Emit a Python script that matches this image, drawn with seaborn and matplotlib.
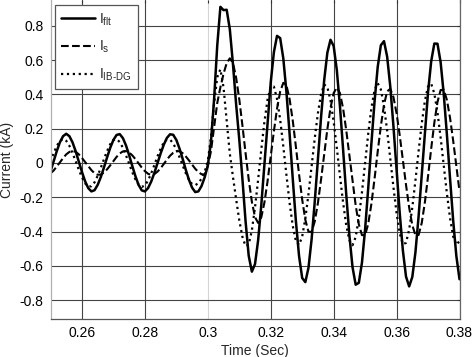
import numpy as np
import matplotlib
matplotlib.use('Agg')
import matplotlib.pyplot as plt
import seaborn as sns

# ── data (kA), sampled every 1 ms from 0.250 s to 0.380 s ─────────────
time = np.round(np.arange(0.250, 0.38001, 0.001), 3)

i_flt = [-.050, .010, .069, .121, .156, .170, .156, .120, .068, .008,
         -.053, -.107, -.147, -.166, -.159, -.128, -.082, -.026, .033, .089,
         .134, .163, .168, .145, .102, .045, -.018, -.078, -.128, -.160,
         -.166, -.147, -.109, -.059, -.002, .055, .106, .146, .167, .164,
         .134, .084, .024, -.040, -.098, -.144, -.170, -.166, -.135, -.084,
         -.016, .121, .372, .685, .910, .891, .893, .779, .575, .342,
         .137, -.093, -.340, -.541, -.634, -.590, -.450, -.246, -.005, .243,
         .470, .645, .741, .728, .609, .412, .168, -.092, -.340, -.542,
         -.671, -.695, -.611, -.444, -.224, .023, .268, .484, .643, .718,
         .682, .542, .331, .079, -.183, -.422, -.608, -.710, -.699, -.581,
         -.386, -.144, .114, .358, .559, .686, .710, .620, .445, .215,
         -.041, -.293, -.510, -.663, -.720, -.665, -.520, -.311, -.068, .182,
         .412, .592, .696, .695, .587, .400, .164, -.092, -.338, -.543,
         -.678]

i_s = [-.061, -.044, -.021, .004, .028, .050, .064, .070, .065, .050,
       .029, .005, -.020, -.042, -.060, -.069, -.068, -.056, -.037, -.014,
       .011, .035, .055, .067, .069, .061, .044, .022, -.002, -.027,
       -.048, -.063, -.070, -.065, -.051, -.031, -.006, .019, .042, .059,
       .069, .068, .057, .038, .015, -.010, -.034, -.053, -.066, -.068,
       -.017, .068, .207, .349, .441, .520, .582, .610, .583, .497,
       .371, .219, .057, -.096, -.226, -.316, -.350, -.317, -.230, -.106,
       .038, .184, .316, .416, .467, .452, .372, .247, .094, -.066,
       -.214, -.332, -.401, -.402, -.340, -.233, -.096, .052, .197, .321,
       .407, .440, .407, .318, .191, .043, -.109, -.248, -.358, -.421,
       -.421, -.354, -.238, -.092, .066, .215, .339, .417, .432, .384,
       .289, .161, .017, -.128, -.260, -.363, -.422, -.420, -.350, -.229,
       -.078, .083, .234, .355, .425, .427, .367, .262, .128, -.020,
       -.165]

i_ib = [.008, .057, .099, .129, .140, .129, .100, .058, .010, -.040,
        -.084, -.119, -.138, -.136, -.113, -.075, -.028, .023, .070, .110,
        .134, .139, .122, .089, .044, -.005, -.054, -.096, -.127, -.140,
        -.131, -.103, -.061, -.013, .038, .083, .119, .138, .136, .114,
        .078, .034, -.014, -.060, -.098, -.123, -.130, -.118, -.092, -.053,
        .011, .150, .347, .500, .546, .440, .248, .053, -.082, -.211,
        -.334, -.431, -.485, -.475, -.394, -.260, -.096, .078, .241, .370,
        .445, .445, .374, .252, .096, -.072, -.233, -.367, -.456, -.478,
        -.429, -.324, -.181, -.018, .145, .291, .401, .457, .442, .364,
        .240, .088, -.075, -.231, -.363, -.451, -.480, -.432, -.322, -.171,
        .001, .172, .321, .425, .465, .428, .330, .189, .026, -.141,
        -.293, -.410, -.474, -.466, -.388, -.260, -.101, .069, .230, .362,
        .446, .462, .405, .295, .148, -.016, -.179, -.323, -.429, -.478,
        -.455]

x_ticks = [0.26, 0.28, 0.30, 0.32, 0.34, 0.36, 0.38]
x_labels = ['0.26', '0.28', '0.3', '0.32', '0.34', '0.36', '0.38']
y_ticks = [-0.8, -0.6, -0.4, -0.2, 0, 0.2, 0.4, 0.6, 0.8]
y_labels = ['-0.8', '-0.6', '-0.4', '-0.2', '0', '0.2', '0.4', '0.6', '0.8']

# ── style ─────────────────────────────────────────────────────────────
sns.set_style('white')
plt.rcParams['font.family'] = ['Liberation Sans', 'DejaVu Sans']
plt.rcParams['mathtext.fontset'] = 'custom'
plt.rcParams['mathtext.rm'] = 'Liberation Sans'
plt.rcParams['axes.unicode_minus'] = False

fig = plt.figure(figsize=(4.74, 3.57), dpi=100)
ax = fig.add_axes([50.5/474, 1 - 319/357, 409/474, 319/357])

# ── curves ────────────────────────────────────────────────────────────
sns.lineplot(x=time, y=i_flt, ax=ax, color='black', lw=1.8, linestyle='-',
             estimator=None, sort=False, label=r'I$_{\mathregular{flt}}$')
sns.lineplot(x=time, y=i_s, ax=ax, color='black', lw=1.5, linestyle='--',
             estimator=None, sort=False, label=r'I$_{\mathregular{s}}$')
sns.lineplot(x=time, y=i_ib, ax=ax, color='black', lw=1.6, linestyle=':',
             estimator=None, sort=False, label=r'I$_{\mathregular{IB\text{-}DG}}$')

# ── axes ──────────────────────────────────────────────────────────────
ax.set_xlim(0.25, 0.38)
ax.set_ylim(-0.91, 0.95)
ax.set_xticks(x_ticks, x_labels)
ax.set_yticks(y_ticks, y_labels)
ax.tick_params(direction='in', length=2, width=0.8, labelsize=10, pad=5,
               colors='#333333', labelcolor='black', top=True, right=True)
ax.grid(True, color='#444444', lw=0.8)
ax.set_axisbelow(True)
ax.get_xgridlines()[2].set_color('#d4d4d4')   # the 0.3 line is faint in the original

ax.spines['top'].set_visible(False)
ax.spines['left'].set_color('#b0b0b0')
ax.spines['bottom'].set_color('#555555')
ax.spines['right'].set_color('#666666')
for sp in ax.spines.values():
    sp.set_linewidth(0.9)

ax.set_xlabel('Time (Sec)', fontsize=10, labelpad=3)
ax.set_ylabel('Current (kA)', fontsize=10, labelpad=4)

leg = ax.legend(loc='upper left', bbox_to_anchor=(0.011, 0.984), borderaxespad=0,
                fontsize=10, handlelength=2.45, handletextpad=0.3,
                labelspacing=0.8, borderpad=0.45, fancybox=False, framealpha=1)
leg.get_frame().set_edgecolor('#555555')
leg.get_frame().set_linewidth(0.9)

fig.savefig('out.png', dpi=100)
